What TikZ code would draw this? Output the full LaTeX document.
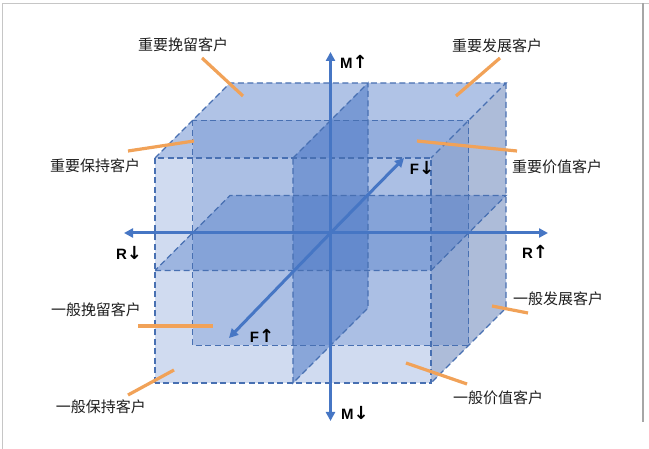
\documentclass[tikz,border=0pt]{standalone}
\usepackage{fontspec}
\setmainfont{Liberation Sans}
\newfontfamily\cjk{Noto Sans CJK SC}
\newfontfamily\arrowfont{DejaVu Sans}
\usetikzlibrary{arrows.meta}
\definecolor{cubeblue}{RGB}{68,114,196}
\definecolor{edgeblue}{RGB}{72,112,178}
\definecolor{rightblue}{RGB}{92,122,180}
\definecolor{axisblue}{RGB}{70,118,196}
\definecolor{leader}{RGB}{241,162,88}
\definecolor{labeltext}{RGB}{30,30,30}
\begin{document}
\begin{tikzpicture}[x=1pt,y=-1pt,
  face/.style={fill=cubeblue,draw=none},
  edge/.style={draw=edgeblue,line width=1.3pt,dash pattern=on 6pt off 3.5pt},
  axis/.style={draw=axisblue,line width=3pt,-{Triangle[length=9pt,width=9pt]}},
  leaderline/.style={draw=leader,line width=3.2pt},
  cnlabel/.style={font=\cjk\fontsize{15}{15}\selectfont,text=labeltext,inner sep=0pt},
  axlabel/.style={font=\bfseries\fontsize{15}{15}\selectfont,text=black,inner sep=0pt},
  arr/.style={}]

\useasboundingbox (0,0) rectangle (649,449);
\fill[white] (0,0) rectangle (649,449);
% frame
\draw[gray!45,line width=1pt] (2,449) -- (2,3.5) -- (649,3.5);
\draw[gray!70,line width=1.2pt] (643,3.5) -- (643,422);

% cube corners
\coordinate (ftl) at (155,158);
\coordinate (ftr) at (431,158);
\coordinate (fbr) at (431,383);
\coordinate (fbl) at (155,383);
\coordinate (btl) at (230,83);
\coordinate (btr) at (506,83);
\coordinate (bbr) at (506,308);
\coordinate (mtl) at (192.5,120.5);
\coordinate (mbr) at (468.5,345.5);
\coordinate (v1) at (293,158);
\coordinate (v2) at (368,83);
\coordinate (v3) at (368,308);
\coordinate (v4) at (293,383);
\coordinate (h1) at (155,270.5);
\coordinate (h2) at (431,270.5);
\coordinate (h3) at (506,195.5);
\coordinate (h4) at (230,195.5);

% faces
\fill[face,fill opacity=0.25] (ftl) rectangle (fbr);
\fill[face,fill opacity=0.42] (ftl) -- (btl) -- (btr) -- (ftr) -- cycle;
\fill[fill=rightblue,fill opacity=0.5] (ftr) -- (btr) -- (bbr) -- (fbr) -- cycle;
\fill[face,fill opacity=0.26] (mtl) rectangle (mbr);
\fill[face,fill opacity=0.36] (h1) -- (h2) -- (h3) -- (h4) -- cycle;
\fill[face,fill opacity=0.5] (v1) -- (v2) -- (v3) -- (v4) -- cycle;

% dashed edges
\draw[edge] (fbl) rectangle (ftr);
\draw[edge] (ftl) -- (btl) -- (btr) -- (ftr);
\draw[edge] (btr) -- (bbr) -- (fbr);
\draw[edge] (mtl) rectangle (mbr);
\draw[edge] (v1) -- (v2) -- (v3) -- (v4) -- cycle;
\draw[edge] (h1) -- (h2) -- (h3) -- (h4) -- cycle;

% axes
\coordinate (o) at (330.5,233);
\coordinate (mtop) at (330.5,52);
\coordinate (mbot) at (330.5,421);
\coordinate (rleft) at (124,233);
\coordinate (rright) at (548,233);
\coordinate (fdown) at (404,158);
\coordinate (fup) at (229,338);
\draw[axis] (o) -- (mtop);
\draw[axis] (o) -- (mbot);
\draw[axis] (o) -- (rleft);
\draw[axis] (o) -- (rright);
\draw[axis] (o) -- (fdown);
\draw[axis] (o) -- (fup);

\node[axlabel] (lmup) at (354,62) {M{\arrowfont\fontsize{18}{18}\selectfont ↑}};
\node[axlabel] (lmdn) at (355,413) {M{\arrowfont\fontsize{18}{18}\selectfont ↓}};
\node[axlabel] (lrdn) at (129,253) {R{\arrowfont\fontsize{18}{18}\selectfont ↓}};
\node[axlabel] (lrup) at (535,252) {R{\arrowfont\fontsize{18}{18}\selectfont ↑}};
\node[axlabel] (lfdn) at (422,168) {F{\arrowfont\fontsize{18}{18}\selectfont ↓}};
\node[axlabel] (lfup) at (262,336) {F{\arrowfont\fontsize{18}{18}\selectfont ↑}};

% leader lines
\coordinate (a1) at (202,58);  \coordinate (b1) at (243,96);
\coordinate (a2) at (500,58);  \coordinate (b2) at (456,96);
\coordinate (a3) at (128,151); \coordinate (b3) at (194,141);
\coordinate (a4) at (517,151); \coordinate (b4) at (417,141);
\coordinate (a5) at (138,326); \coordinate (b5) at (213,326);
\coordinate (a6) at (128,395); \coordinate (b6) at (174,370);
\coordinate (a7) at (528,313); \coordinate (b7) at (492,306);
\coordinate (a8) at (467,384); \coordinate (b8) at (406,363);
\foreach \i in {1,...,8} {\draw[leaderline] (a\i) -- (b\i);}

% labels
\node[cnlabel] (t1) at (183,45) {重要挽留客户};
\node[cnlabel] (t2) at (497,46) {重要发展客户};
\node[cnlabel] (t3) at (95,166) {重要保持客户};
\node[cnlabel] (t4) at (557,167) {重要价值客户};
\node[cnlabel] (t5) at (96,310) {一般挽留客户};
\node[cnlabel] (t6) at (101,407) {一般保持客户};
\node[cnlabel] (t7) at (558,299) {一般发展客户};
\node[cnlabel] (t8) at (498,398) {一般价值客户};
\end{tikzpicture}
\end{document}
